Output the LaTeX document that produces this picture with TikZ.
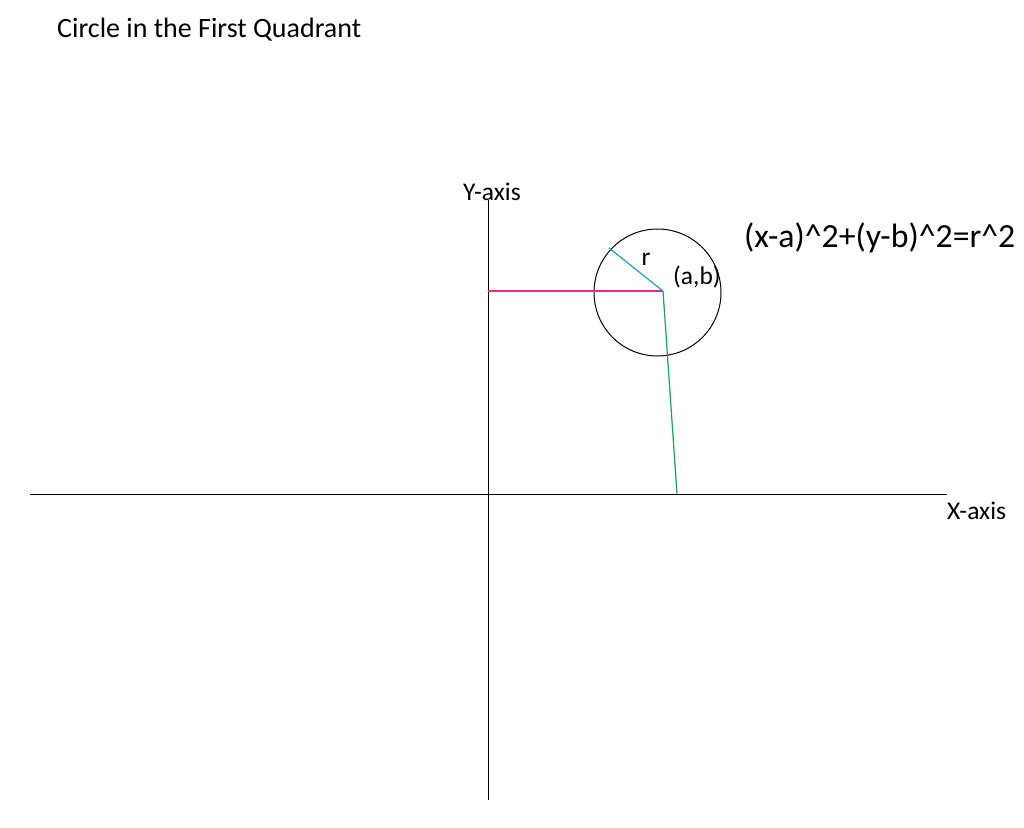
\documentclass[tikz,border=0pt]{standalone}
\usepackage{fontspec}
\setmainfont{Carlito}
\definecolor{pinkline}{HTML}{E6307F}
\definecolor{blueline}{HTML}{1E9FD0}
\definecolor{greenline}{HTML}{20A050}
\begin{document}
\begin{tikzpicture}[x=1pt,y=-1pt,
  axis/.style={black, line width=1pt},
  lbl/.style={inner sep=0pt, font=\fontsize{25.5}{30}\selectfont},
  conn/.style={line width=1.2pt}]
\useasboundingbox[fill=white] (0,0) rectangle (1024,827);
\node[anchor=base west, inner sep=0pt, font=\fontsize{28}{33}\selectfont] (title) at (57,37) {Circle in the First Quadrant};
\coordinate (ytop) at (488,200);
\coordinate (ybot) at (488,800);
\coordinate (xl) at (30,494);
\coordinate (xr) at (947,494);
\draw[axis] (ytop) -- (ybot);
\draw[axis] (xl) -- (xr);
\node[lbl, anchor=base] (ylabel) at (492,200) {Y-axis};
\node[lbl, anchor=base west] (xlabel) at (947,519) {X-axis};
\node[draw, circle, minimum size=127pt, inner sep=0pt, line width=1pt] (circ) at (657.5,292.5) {};
\coordinate (ctr) at (663,291);
\coordinate (yfoot) at (488,291);
\coordinate (xfoot) at (677,494);
\coordinate (rim) at (609,248);
\draw[conn, pinkline] (yfoot) -- (ctr);
\draw[conn, blueline] (ctr) -- (rim);
\draw[conn, greenline] (ctr) -- (xfoot);
\node[lbl, anchor=base] (rlbl) at (646,265) {r};
\node[lbl, anchor=base west] (ab) at (673,284) {(a,b)};
\node[anchor=base west, inner sep=0pt, font=\fontsize{33.8}{40}\selectfont] (eq) at (744,247) {(x-a)\^{}2+(y-b)\^{}2=r\^{}2};
\end{tikzpicture}
\end{document}
